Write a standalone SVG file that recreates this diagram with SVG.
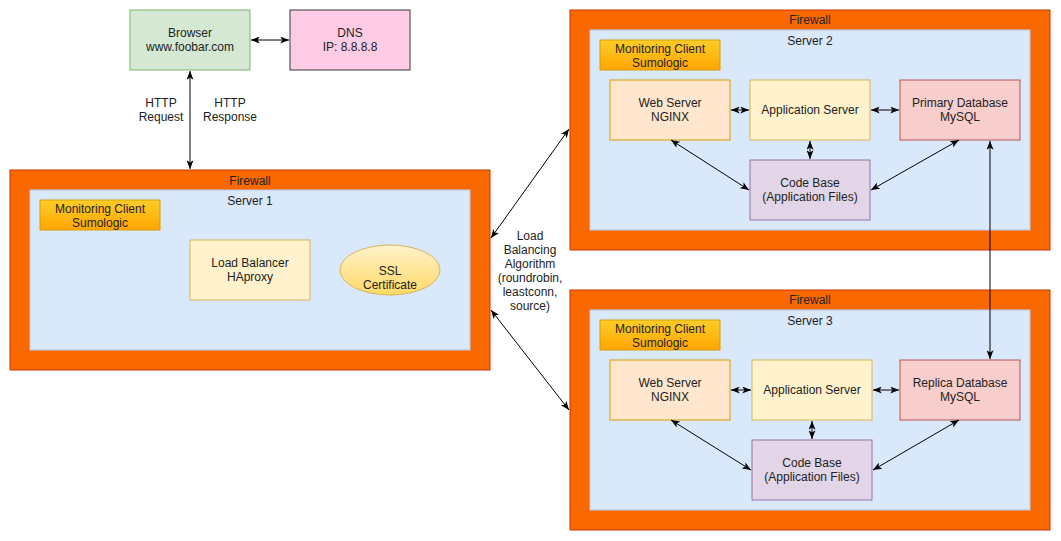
<svg xmlns="http://www.w3.org/2000/svg" width="1061" height="541" viewBox="0 0 1061 541">
<defs>
<linearGradient id="gMon" x1="0" y1="0" x2="0" y2="1"><stop offset="0" stop-color="#ffcd28"/><stop offset="1" stop-color="#ffa500"/></linearGradient>
<linearGradient id="gSsl" x1="0" y1="0" x2="0" y2="1"><stop offset="0" stop-color="#fff2cc"/><stop offset="1" stop-color="#ffd966"/></linearGradient>
<marker id="ah" viewBox="0 0 10 8" refX="10" refY="4" markerWidth="9" markerHeight="7" markerUnits="userSpaceOnUse" orient="auto-start-reverse"><path d="M0,0 L10,4 L0,8 L2.5,4 Z" fill="#000"/></marker>
</defs>
<style>
text{font-family:"Liberation Sans",Arial,sans-serif;font-size:12px;fill:#222;text-anchor:middle}
.fw{fill:#fa6800;stroke:#c73500;stroke-width:1}
.srv{fill:#dae8fc;stroke:#b5c9e6;stroke-width:1}
.mon{fill:url(#gMon);stroke:#d79b00}
.web{fill:#ffe6cc;stroke:#d79b00}
.app{fill:#fff2cc;stroke:#d6b656}
.db{fill:#f8cecc;stroke:#b85450}
.code{fill:#e1d5e7;stroke:#9673a6}
.c{fill:none;stroke:#000;stroke-width:1;marker-start:url(#ah);marker-end:url(#ah)}
</style>
<rect width="1061" height="541" fill="#fff"/>
<g id="browser"><rect x="130" y="10" width="120" height="60" fill="#d5e8d4" stroke="#82b366"/><text x="190" y="37">Browser</text><text x="190" y="51">www.foobar.com</text></g>
<g id="dns"><rect x="290" y="10" width="120" height="60" fill="#ffcce6" stroke="#36393d"/><text x="350" y="37">DNS</text><text x="350" y="51">IP: 8.8.8.8</text></g>
<g id="labels"><text x="161" y="107">HTTP</text><text x="161" y="121">Request</text><text x="230" y="107">HTTP</text><text x="230" y="121">Response</text>
<text x="530" y="240">Load</text><text x="530" y="254">Balancing</text><text x="530" y="268">Algorithm</text><text x="530" y="282">(roundrobin,</text><text x="530" y="296">leastconn,</text><text x="530" y="310">source)</text></g>
<g id="firewall1"><rect class="fw" x="10" y="170" width="480" height="200"/><text x="250" y="185">Firewall</text></g>
<g id="server1"><rect class="srv" x="30" y="190" width="440" height="160"/><text x="250" y="205">Server 1</text></g>
<g id="monitor1"><rect class="mon" x="40" y="200" width="120" height="30"/><text x="100" y="213">Monitoring Client</text><text x="100" y="227">Sumologic</text></g>
<g id="lb"><rect class="app" x="190" y="240" width="120" height="60"/><text x="250" y="267">Load Balancer</text><text x="250" y="281">HAproxy</text></g>
<g id="ssl"><ellipse cx="390" cy="270" rx="50" ry="25" fill="url(#gSsl)" stroke="#d6b656"/><text x="390" y="275">SSL</text><text x="390" y="289">Certificate</text></g>
<g id="firewall2"><rect class="fw" x="570" y="10" width="480" height="240"/><text x="810" y="24">Firewall</text></g>
<g id="server2"><rect class="srv" x="590" y="30" width="440" height="200"/><text x="810" y="45">Server 2</text></g>
<g id="monitor2"><rect class="mon" x="600" y="40" width="120" height="30"/><text x="660" y="53">Monitoring Client</text><text x="660" y="67">Sumologic</text></g>
<g id="web2"><rect class="web" x="610" y="80" width="120" height="60"/><text x="670" y="107">Web Server</text><text x="670" y="121">NGINX</text></g>
<g id="app2"><rect class="app" x="750" y="80" width="120" height="60"/><text x="810" y="114">Application Server</text></g>
<g id="db2"><rect class="db" x="900" y="80" width="120" height="60"/><text x="960" y="107">Primary Database</text><text x="960" y="121">MySQL</text></g>
<g id="code2"><rect class="code" x="750" y="160" width="120" height="60"/><text x="810" y="187">Code Base</text><text x="810" y="201">(Application Files)</text></g>
<g id="firewall3"><rect class="fw" x="570" y="290" width="480" height="240"/><text x="810" y="304">Firewall</text></g>
<g id="server3"><rect class="srv" x="590" y="310" width="440" height="200"/><text x="810" y="325">Server 3</text></g>
<g id="monitor3"><rect class="mon" x="600" y="320" width="120" height="30"/><text x="660" y="333">Monitoring Client</text><text x="660" y="347">Sumologic</text></g>
<g id="web3"><rect class="web" x="610" y="360" width="120" height="60"/><text x="670" y="387">Web Server</text><text x="670" y="401">NGINX</text></g>
<g id="app3"><rect class="app" x="752" y="360" width="120" height="60"/><text x="812" y="394">Application Server</text></g>
<g id="db3"><rect class="db" x="900" y="360" width="120" height="60"/><text x="960" y="387">Replica Database</text><text x="960" y="401">MySQL</text></g>
<g id="code3"><rect class="code" x="752" y="440" width="120" height="60"/><text x="812" y="467">Code Base</text><text x="812" y="481">(Application Files)</text></g>
<g id="connectors">
<line class="c" x1="251" y1="40" x2="289" y2="40"/>
<line class="c" x1="190" y1="71" x2="190" y2="169"/>
<line class="c" x1="491" y1="238" x2="569" y2="129"/>
<line class="c" x1="491" y1="310" x2="569" y2="410"/>
<line class="c" x1="731" y1="110" x2="749" y2="110"/>
<line class="c" x1="871" y1="110" x2="899" y2="110"/>
<line class="c" x1="810" y1="141" x2="810" y2="159"/>
<line class="c" x1="671" y1="140" x2="749" y2="190"/>
<line class="c" x1="959" y1="140" x2="871" y2="190"/>
<line class="c" x1="990" y1="141" x2="990" y2="359"/>
<line class="c" x1="731" y1="390" x2="751" y2="390"/>
<line class="c" x1="873" y1="390" x2="899" y2="390"/>
<line class="c" x1="812" y1="421" x2="812" y2="439"/>
<line class="c" x1="671" y1="420" x2="751" y2="470"/>
<line class="c" x1="959" y1="420" x2="873" y2="470"/>
</g>
</svg>
